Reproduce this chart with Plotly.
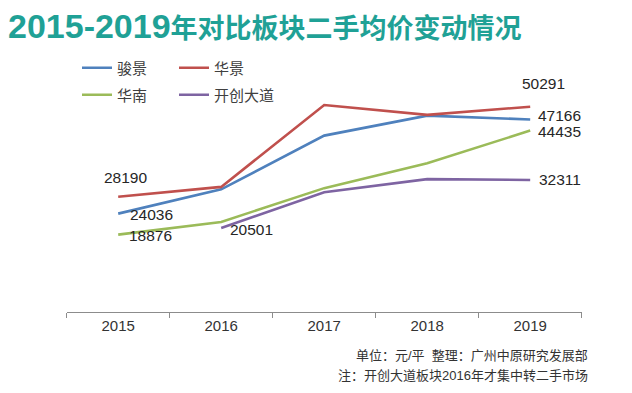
import plotly.graph_objects as go

# ---- data ----
years = ["2015", "2016", "2017", "2018", "2019"]
junjing = [24036, 30000, 43200, 48100, 47166]      # 骏景
huajing = [28190, 30600, 50700, 48300, 50291]      # 华景
huanan = [18876, 22000, 30300, 36400, 44435]       # 华南
kaichuang = [None, 20501, 29300, 32500, 32311]     # 开创大道

series_names = ["骏景", "华景", "华南", "开创大道"]
series_values = [junjing, huajing, huanan, kaichuang]
series_colors = ["#4F81BD", "#C0504D", "#9BBB59", "#7E64A2"]

title_digits = "2015-2019"
title_rest = "年对比板块二手均价变动情况"
footer_1 = "单位：元/平  整理：广州中原研究发展部"
footer_2 = "注：开创大道板块2016年才集中转二手市场"

# which points carry a value label: (series index, year index, xanchor, xshift, yshift)
label_specs = [
    (1, 0, "center", 7, 19),
    (0, 0, "left", 10, -1),
    (2, 0, "left", 9, -1),
    (3, 1, "left", 7, -1),
    (1, 4, "center", 13, 23),
    (0, 4, "left", 6, 4),
    (2, 4, "left", 6, -1),
    (3, 4, "left", 7, 0),
]

W, H = 632, 393
FONT = "Liberation Sans, Arial, Noto Sans CJK SC, sans-serif"

fig = go.Figure()
legend_ids = ["legend", "legend2", "legend3", "legend4"]
for name, vals, col, lg in zip(series_names, series_values, series_colors, legend_ids):
    fig.add_trace(go.Scatter(
        x=years, y=vals, name=name, mode="lines",
        line=dict(color=col, width=2.6),
        legend=lg, hoverinfo="x+y+name",
    ))

annotations = []
for si, yi, xa, xs, ys in label_specs:
    v = series_values[si][yi]
    annotations.append(dict(
        x=yi, y=v, xref="x", yref="y", text=str(v), showarrow=False,  # category index
        xanchor=xa, yanchor="middle", xshift=xs, yshift=ys,
        font=dict(family=FONT, size=15.5, color="#262626"),
    ))

# title
annotations.append(dict(
    x=6 / W, y=1 - 26 / H, xref="paper", yref="paper", xanchor="left", yanchor="middle",
    showarrow=False,
    text='<b><span style="font-size:34px">' + title_digits + '</span>' + title_rest + '</b>',
    font=dict(family=FONT, size=27, color="#1FA196"),
))
# footers
annotations.append(dict(
    x=590 / W, y=1 - 355 / H, xref="paper", yref="paper", xanchor="right", yanchor="middle",
    showarrow=False, text=footer_1, font=dict(family=FONT, size=13, color="#333333"),
))
annotations.append(dict(
    x=590 / W, y=1 - 375 / H, xref="paper", yref="paper", xanchor="right", yanchor="middle",
    showarrow=False, text=footer_2, font=dict(family=FONT, size=13, color="#333333"),
))

legend_common = dict(orientation="h", xanchor="left", yanchor="middle",
                     bgcolor="rgba(0,0,0,0)", borderwidth=0,
                     font=dict(family=FONT, size=15, color="#404040"))
legend_pos = [(77, 68), (174, 68), (77, 95), (174, 95)]

layout_kwargs = {}
for lg, (px, py) in zip(legend_ids, legend_pos):
    layout_kwargs[lg] = dict(legend_common, x=px / W, y=1 - py / H)

fig.update_layout(
    width=W, height=H,
    margin=dict(l=0, r=0, t=0, b=0),
    paper_bgcolor="white", plot_bgcolor="white",
    showlegend=True,
    xaxis=dict(
        type="category", domain=[66.7 / W, 581.7 / W],
        showline=True, linecolor="#8C8C8C", linewidth=1,
        ticks="outside", tickson="boundaries", ticklen=5, tickcolor="#8C8C8C",
        showgrid=False, zeroline=False,
        tickfont=dict(family=FONT, size=15, color="#333333"),
        range=[-0.5, 4.5],
    ),
    yaxis=dict(
        visible=False, range=[0, 60000],
        domain=[(H - 311.5) / H, (H - 67.2) / H],
    ),
    annotations=annotations,
    **layout_kwargs,
)

fig.write_html("out.html", config={"displayModeBar": False},
               post_script="document.body.style.margin='0';")
